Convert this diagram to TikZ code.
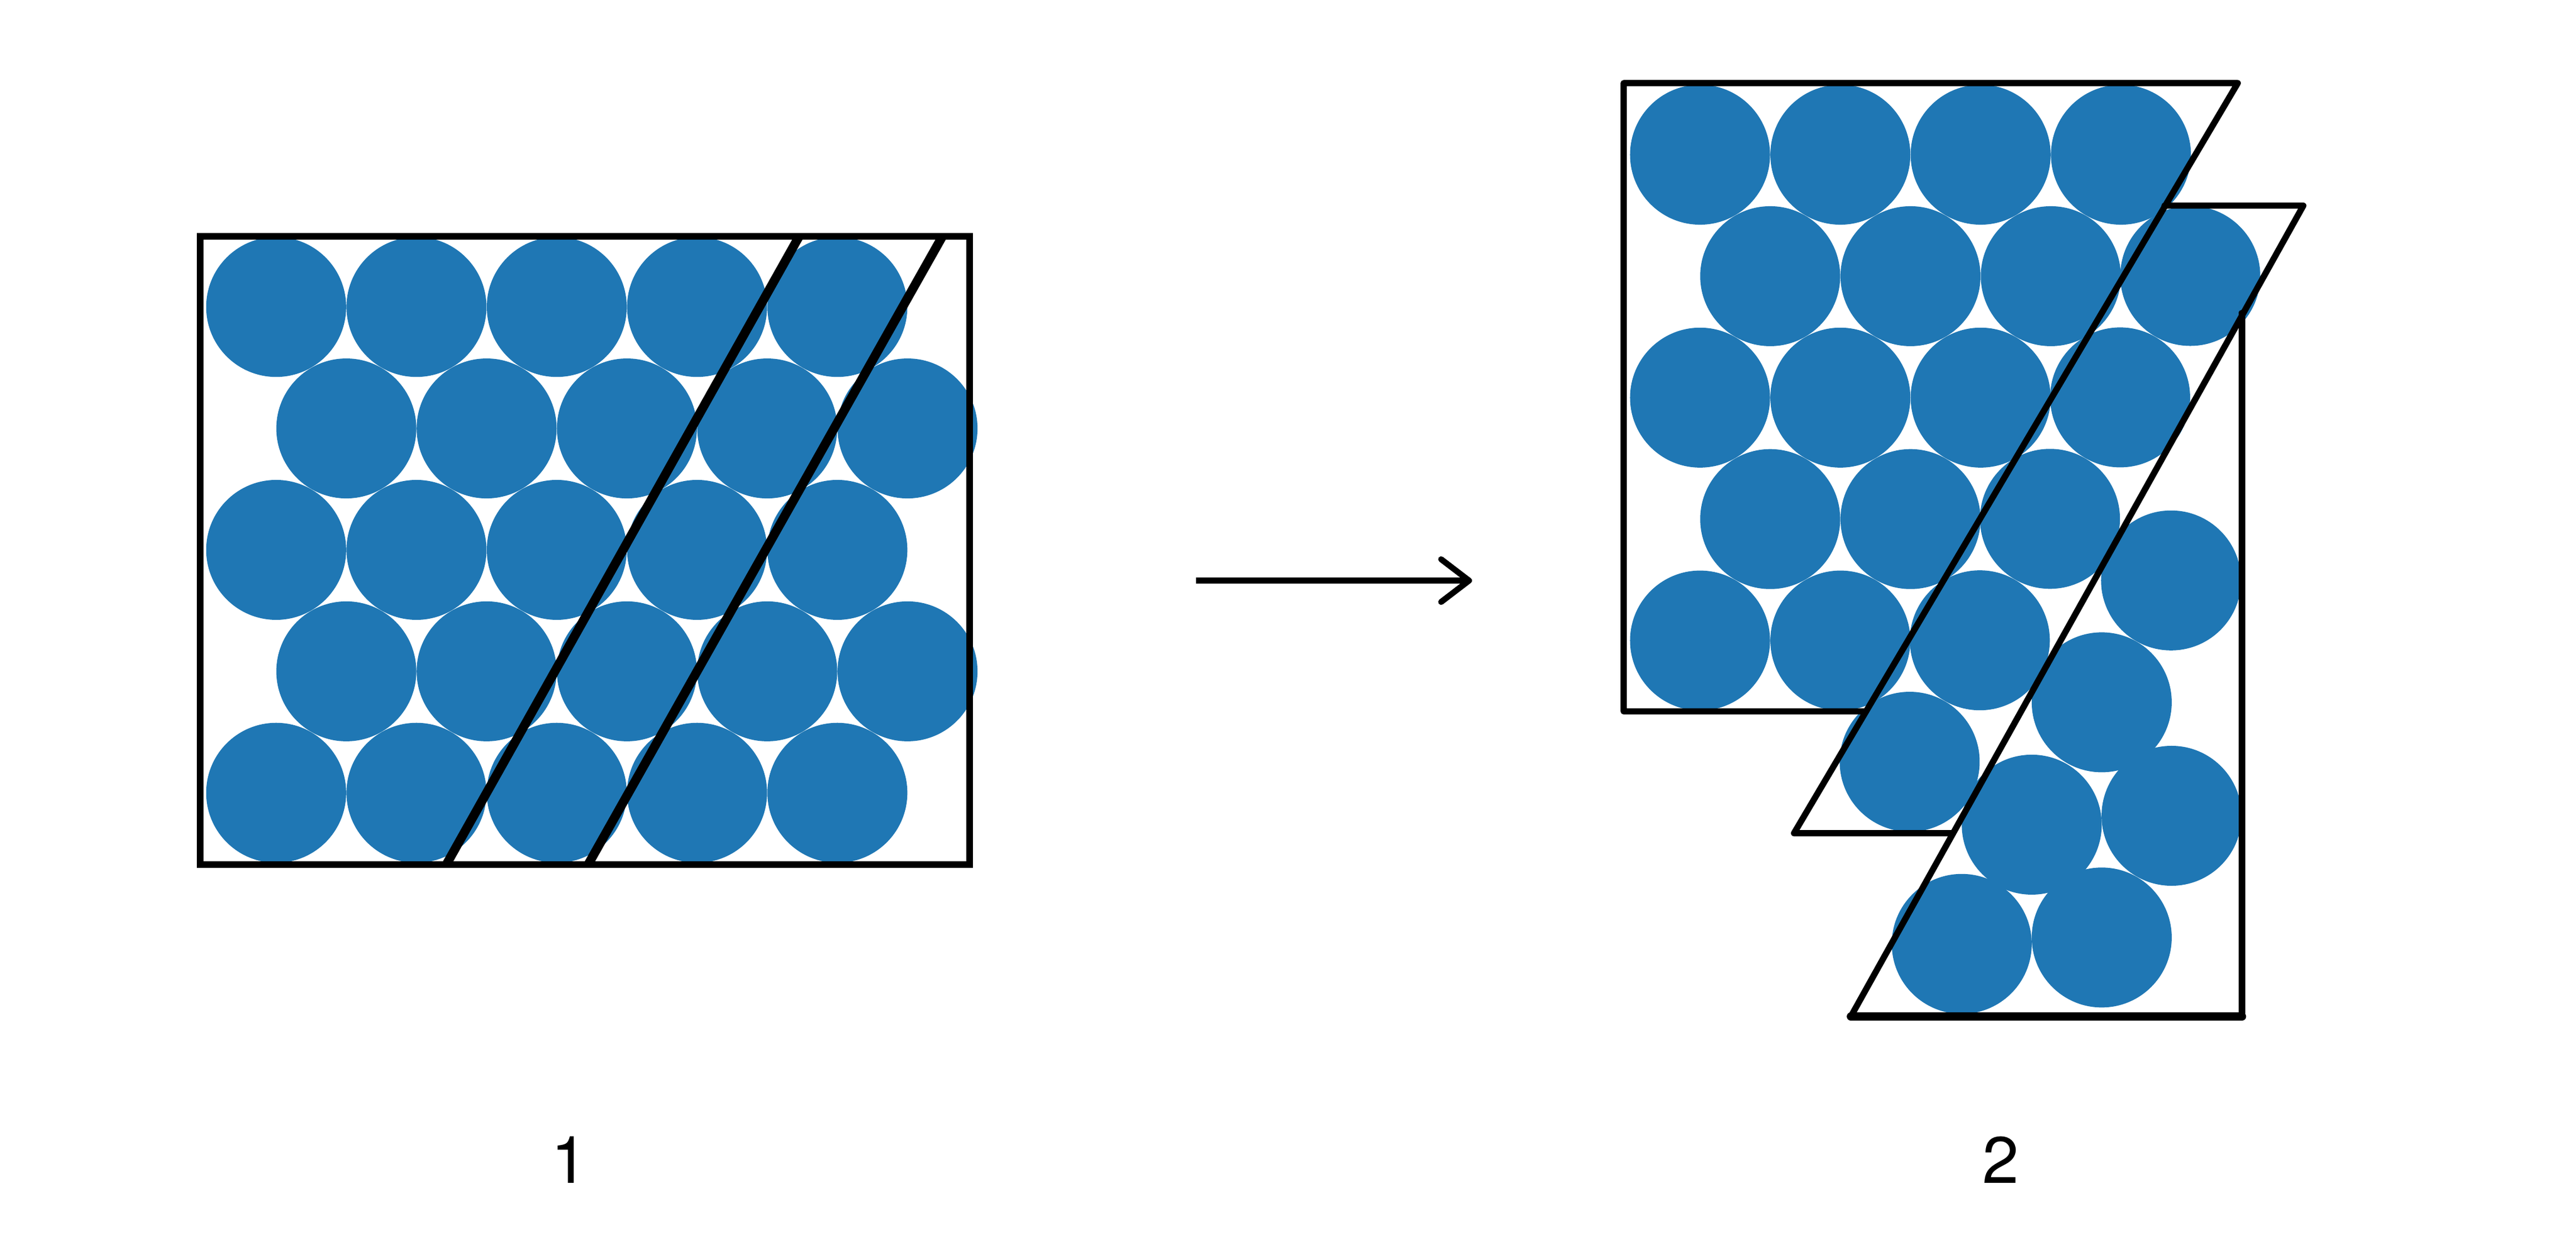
\documentclass[tikz,border=0pt]{standalone}
\usepackage{fontspec}
\setmainfont{TeX Gyre Heros}
\usetikzlibrary{arrows.meta}
\definecolor{ballblue}{RGB}{31,119,180}

\begin{document}
\begin{tikzpicture}[x=1pt, y=-1pt, disc/.style = {circle, fill=ballblue, inner sep=0pt, minimum size=85.2pt}, box/.style = {line width=4.2pt}, slip/.style = {line width=5.5pt}, outline/.style = {line width=3.8pt, line cap=round, line join=round}, tag/.style = {font=\fontsize{40}{48}\selectfont, anchor=base}]
  \useasboundingbox (0,0) rectangle (1568,765);
  % before: packed discs
  \node[disc] (l1) at (168.1,186.9) {};
  \node[disc] (l2) at (253.5,186.9) {};
  \node[disc] (l3) at (338.9,186.9) {};
  \node[disc] (l4) at (424.3,186.9) {};
  \node[disc] (l5) at (509.7,186.9) {};
  \node[disc] (l6) at (210.8,260.85) {};
  \node[disc] (l7) at (296.2,260.85) {};
  \node[disc] (l8) at (381.6,260.85) {};
  \node[disc] (l9) at (467.0,260.85) {};
  \node[disc] (l10) at (552.4,260.85) {};
  \node[disc] (l11) at (168.1,334.8) {};
  \node[disc] (l12) at (253.5,334.8) {};
  \node[disc] (l13) at (338.9,334.8) {};
  \node[disc] (l14) at (424.3,334.8) {};
  \node[disc] (l15) at (509.7,334.8) {};
  \node[disc] (l16) at (210.8,408.75) {};
  \node[disc] (l17) at (296.2,408.75) {};
  \node[disc] (l18) at (381.6,408.75) {};
  \node[disc] (l19) at (467.0,408.75) {};
  \node[disc] (l20) at (552.4,408.75) {};
  \node[disc] (l21) at (168.1,482.7) {};
  \node[disc] (l22) at (253.5,482.7) {};
  \node[disc] (l23) at (338.9,482.7) {};
  \node[disc] (l24) at (424.3,482.7) {};
  \node[disc] (l25) at (509.7,482.7) {};
  \draw[slip] (271.6,526.5) -- (486.5,143.8);
  \draw[slip] (357.9,526.5) -- (573.7,143.8);
  \draw[box] (121.9,143.8) rectangle (590.3,526.5);
  % after: discs moved along the slip lines
  \node[disc] (r1) at (1034.8,94.2) {};
  \node[disc] (r2) at (1120.2,94.2) {};
  \node[disc] (r3) at (1205.6,94.2) {};
  \node[disc] (r4) at (1291.0,94.2) {};
  \node[disc] (r5) at (1077.5,168.15) {};
  \node[disc] (r6) at (1162.9,168.15) {};
  \node[disc] (r7) at (1248.3,168.15) {};
  \node[disc] (r8) at (1034.8,242.1) {};
  \node[disc] (r9) at (1120.2,242.1) {};
  \node[disc] (r10) at (1205.6,242.1) {};
  \node[disc] (r11) at (1077.5,316.05) {};
  \node[disc] (r12) at (1162.9,316.05) {};
  \node[disc] (r13) at (1034.8,390.0) {};
  \node[disc] (r14) at (1120.2,390.0) {};
  \node[disc] (r15) at (1333.2,168.0) {};
  \node[disc] (r16) at (1290.5,241.95) {};
  \node[disc] (r17) at (1247.8,315.9) {};
  \node[disc] (r18) at (1205.1,389.85) {};
  \node[disc] (r19) at (1162.4,463.8) {};
  \node[disc] (r20) at (1321.5,353.4) {};
  \node[disc] (r21) at (1279.3,427.6) {};
  \node[disc] (r22) at (1236.7,502.1) {};
  \node[disc] (r23) at (1321.8,496.7) {};
  \node[disc] (r24) at (1194.1,574.7) {};
  \node[disc] (r25) at (1279.3,570.8) {};
  \draw[outline] (1135.5,433.1) -- (988.3,433.1) -- (988.3,50.6) -- (1362.1,50.6) -- (1092.0,507.3) -- (1188.5,507.3);
  \draw[outline] (1317.5,125.2) -- (1402.0,125.2) -- (1126.6,618.9);
  \draw[outline, line width=5pt] (1126.6,618.9) -- (1364.7,618.9);
  \draw[outline] (1364.7,618.9) -- (1364.7,190.5);
  % arrow and captions
  \coordinate (from) at (728,353.5);
  \coordinate (to) at (896,353.5);
  \draw[line width=3.6pt, -{Straight Barb[length=17pt, width=26pt, line cap=round, line join=round]}] (from) -- (to);
  \node[tag] (one) at (346.5,720.5) {1};
  \node[tag] (two) at (1217.8,720.5) {2};
\end{tikzpicture}
\end{document}
